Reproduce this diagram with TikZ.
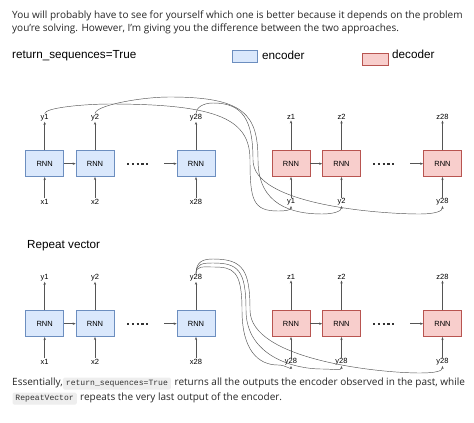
\documentclass[tikz,border=0pt]{standalone}
\usepackage{fontspec}
\setmainfont{Open Sans}
\setsansfont{Liberation Sans}
\newfontfamily\codefont{Liberation Mono}
\usetikzlibrary{arrows.meta,positioning}

\definecolor{encfill}{HTML}{DAE8FC}
\definecolor{encline}{HTML}{6C8EBF}
\definecolor{decfill}{HTML}{F8CECC}
\definecolor{decline}{HTML}{B85450}
\definecolor{wirecol}{HTML}{555555}
\definecolor{codebg}{HTML}{EEEEEE}

\tikzset{
  enc/.style={draw=encline,fill=encfill,line width=0.7pt,minimum width=38pt,
    minimum height=26pt,inner sep=0pt,font=\sffamily\fontsize{7.5}{8}\selectfont},
  dec/.style={enc,draw=decline,fill=decfill},
  lbl/.style={inner sep=0.5pt,font=\sffamily\fontsize{7.5}{8}\selectfont},
  wire/.style={draw=wirecol,line width=0.6pt,-{Stealth[length=3pt,width=2.4pt]}},
  link/.style={wire,line width=0.45pt},
  dotrow/.style={draw=black!80,line width=2.2pt,dash pattern=on 2.2pt off 2.6pt},
  txt/.style={inner sep=0pt,anchor=base west,text=black!85,font=\fontsize{10}{12}\selectfont},
  head/.style={inner sep=0pt,anchor=base west,font=\sffamily\fontsize{11.7}{13}\selectfont},
  code/.style={fill=codebg,rounded corners=1.5pt,inner xsep=3pt,inner ysep=2pt,
    text height=6pt,text depth=1.8pt,anchor=base west,text=black!80,
    font=\codefont\fontsize{8.1}{9}\selectfont},
}

\begin{document}
\begin{tikzpicture}[x=1pt,y=-1pt]
  \useasboundingbox[fill=white] (0,0) rectangle (474,423);

  % text above
  \node[txt] (intro1) at (12,18.3) {You will probably have to see for yourself which one is better because it depends on the problem};
  \node[txt] (intro2) at (12,31.7) {you're solving. However, I'm giving you the difference between the two approaches.};

  % headings and legend
  \node[head] (rsq) at (12,58.3) {return\_sequences=True};
  \node[enc,minimum width=25pt,minimum height=12pt] (lgenc) at (244.5,56) {};
  \node[head] (lgenctxt) at (262,59) {encoder};
  \node[dec,minimum width=26pt,minimum height=12pt] (lgdec) at (375,59) {};
  \node[head] (lgdectxt) at (392,58.5) {decoder};
  \node[head] (rv) at (27,248.3) {Repeat vector};

  % the two rows
  \foreach \r/\yy/\ba/\bb in {a/163.7/y1/y2,b/323.7/y28/y28}{
    \node[enc] (e1\r) at (44.7,\yy) {RNN};
    \node[enc] (e2\r) at (95,\yy) {RNN};
    \node[enc] (e3\r) at (196,\yy) {RNN};
    \node[dec] (d1\r) at (291,\yy) {RNN};
    \node[dec] (d2\r) at (341.5,\yy) {RNN};
    \node[dec] (d3\r) at (442.5,\yy) {RNN};
    \coordinate (es\r) at (164,\yy);
    \coordinate (ds\r) at (410,\yy);
    \path[dotrow] (127,\yy) -- +(23,0);
    \path[dotrow] (373,\yy) -- +(23,0);
    % encoder labels
    \node[lbl] (o1\r) at (44.7,\yy-46) {y1};
    \node[lbl] (o2\r) at (95,\yy-46) {y2};
    \node[lbl] (o3\r) at (196,\yy-46) {y28};
    \node[lbl] (i1\r) at (44.7,\yy+38) {x1};
    \node[lbl] (i2\r) at (95,\yy+38) {x2};
    \node[lbl] (i3\r) at (196,\yy+38) {x28};
    % decoder labels
    \node[lbl] (z1\r) at (291,\yy-46.5) {z1};
    \node[lbl] (z2\r) at (341.5,\yy-46.5) {z2};
    \node[lbl] (z3\r) at (442.5,\yy-46.5) {z28};
    \node[lbl] (q1\r) at (291,\yy+38.3) {\ba};
    \node[lbl] (q2\r) at (341.5,\yy+38.3) {\bb};
    \node[lbl] (q3\r) at (442.5,\yy+38.3) {y28};
    \foreach \k in {1,2,3}{
      \draw[wire] (e\k\r) -- (o\k\r);
      \draw[wire] (i\k\r) -- (e\k\r);
      \draw[wire] (d\k\r) -- (z\k\r);
      \draw[wire] (q\k\r) -- (d\k\r);
    }
    \draw[wire] (e1\r) -- (e2\r);
    \draw[wire] (es\r) -- (e3\r);
    \draw[wire] (d1\r) -- (d2\r);
    \draw[wire] (ds\r) -- (d3\r);
  }

  % return_sequences links
  \draw[link] (o1a.north) .. controls +(0,-6) and +(-25,0) .. (110,104)
    .. controls +(110,0) and +(0,-40) .. (250,160)
    .. controls +(0,40) and +(-25,0) .. (278,211)
    .. controls +(8,0) and +(0,4) .. (q1a.south);
  \draw[link] (o2a.north) .. controls +(0,-8) and +(-30,0) .. (170,97)
    .. controls +(75,0) and +(0,-45) .. (258,160)
    .. controls +(0,45) and +(-30,0) .. (322,214)
    .. controls +(12,0) and +(0,5) .. (q2a.south);
  \draw[link] (o3a.north) .. controls +(0,-6) and +(-10,0) .. (213,103)
    .. controls +(30,0) and +(0,-40) .. (253,160)
    .. controls +(0,45) and +(-40,0) .. (420,214)
    .. controls +(15,0) and +(0,5) .. (q3a.south);

  % repeat vector links
  \draw[link] (o3b.north) .. controls +(0,-8) and +(-10,0) .. (213,267)
    .. controls +(20,0) and +(0,-40) .. (242,310)
    .. controls +(0,40) and +(-20,0) .. (278,365)
    .. controls +(8,0) and +(0,4) .. (q1b.south);
  \draw[link] (o3b.north) .. controls +(0,-10) and +(-10,0) .. (213,263)
    .. controls +(25,0) and +(0,-40) .. (246,310)
    .. controls +(0,45) and +(-30,0) .. (322,369)
    .. controls +(12,0) and +(0,5) .. (q2b.south);
  \draw[link] (o3b.north) .. controls +(0,-12) and +(-10,0) .. (213,259)
    .. controls +(30,0) and +(0,-40) .. (250,310)
    .. controls +(0,50) and +(-40,0) .. (420,373)
    .. controls +(15,0) and +(0,5) .. (q3b.south);

  % text below
  \node[txt] (ess) at (12,385.7) {Essentially,};
  \node[code] (rsc) at (62.7,385.7) {return\_sequences=True};
  \node[txt] (ret) at (174.5,385.7) {returns all the outputs the encoder observed in the past, while};
  \node[code] (rvc) at (12.3,400.7) {RepeatVector};
  \node[txt] (rep) at (80,400.7) {repeats the very last output of the encoder.};
\end{tikzpicture}
\end{document}
